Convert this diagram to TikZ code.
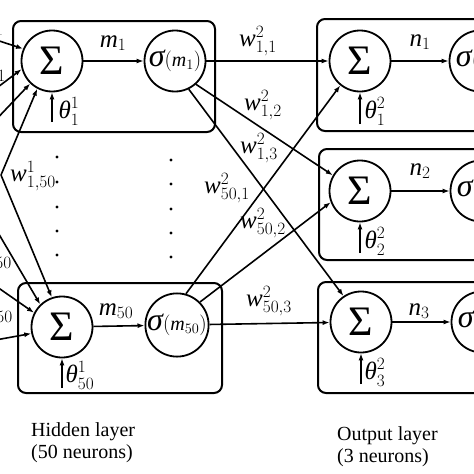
\documentclass[tikz,border=0pt]{standalone}
\usepackage{fontspec}
\setmainfont{Liberation Serif}
\usetikzlibrary{arrows.meta}
\newcommand{\wlab}[2]{$\mathit{w}^{#1}_{#2}$}
\newcommand{\thlab}[2]{$\mbox{\itshape θ}^{#1}_{#2}$}
\newcommand{\sgm}[2]{{\fontsize{32}{32}\selectfont\mbox{\itshape σ}}{\fontsize{20}{20}\selectfont$(\mathit{#1}_{#2})$}}
\tikzset{
  neuron/.style={circle, draw, line width=1.8pt, minimum size=61pt, inner sep=0pt},
  sumtext/.style={font=\fontsize{42}{42}\selectfont},
  layerbox/.style={draw, line width=2pt, rounded corners=8pt},
  conn/.style={line width=1.6pt, -{Latex[length=7pt,width=5pt]}},
  lbl/.style={font=\fontsize{25}{27}\selectfont, inner sep=0pt},
  captext/.style={font=\fontsize{20}{22}\selectfont, inner sep=0pt, anchor=base west},
  dotmark/.style={fill=black}
}
\begin{document}
\begin{tikzpicture}[x=1pt,y=-1pt]
\useasboundingbox (0,0) rectangle (474,474);
\clip (0,0) rectangle (474,474);
\fill[white] (0,0) rectangle (474,474);
% layer boxes
\draw[layerbox] (13,21) rectangle (215,132);
\draw[layerbox] (18,283) rectangle (222,393);
\draw[layerbox] (317,19) rectangle (560,131);
\draw[layerbox] (319,149) rectangle (560,260);
\draw[layerbox] (318,282) rectangle (560,393);
% neurons
\node[neuron, sumtext] (S1) at (52,61) {Σ};
\node[neuron] (M1) at (175,61) {\sgm{m}{1}};
\node[neuron, sumtext] (S50) at (62,327) {Σ};
\node[neuron] (M50) at (177,325) {\sgm{m}{50}};
\node[neuron, sumtext] (O1) at (360,61) {Σ};
\node[neuron, sumtext] (O2) at (360,191) {Σ};
\node[neuron, sumtext] (O3) at (361,322) {Σ};
\node[neuron] (R1) at (480,61) {\sgm{n}{1}};
\node[neuron] (R2) at (481,191) {\sgm{n}{2}};
\node[neuron] (R3) at (482,322) {\sgm{n}{3}};
% inputs (from outside the frame)
\coordinate (ia) at (-10,38);
\coordinate (ib) at (-10,93);
\coordinate (ic) at (-10,126);
\coordinate (id) at (1,175);
\coordinate (ie) at (-10,219);
\coordinate (ig) at (-10,282);
\coordinate (ih) at (-10,341);
\draw[conn] (ia) -- (S1.157);
\draw[conn] (ib) -- (S1.195);
\draw[conn] (ic) -- (S1.226);
\draw[conn] (id) -- (S1.242);
\draw[conn] (id) -- (S50.109);
\draw[conn] (ie) -- (S50.134);
\draw[conn] (ig) -- (S50.153);
\draw[conn] (ih) -- (S50.192);
% partial labels at the left edge
\node[lbl, anchor=east, text=black!55] (pa) at (4,24) {\wlab{1}{1,1}};
\node[lbl, anchor=east] (pb) at (6,70) {\wlab{1}{2,1}};
\node[lbl, anchor=east] (pc) at (12,257) {\wlab{1}{2,50}};
\node[lbl, anchor=east] (pd) at (13,311) {\wlab{1}{3,50}};
% hidden layer internals
\draw[conn] (S1) -- (M1);
\draw[conn] (S50) -- (M50);
\node[lbl] (lm1) at (113,43) {$\mathit{m}_1$};
\node[lbl] (lm50) at (116,311) {$\mathit{m}_{50}$};
% biases
\coordinate (b1) at (52,122);
\coordinate (b50) at (62,388);
\coordinate (bo1) at (360,124);
\coordinate (bo2) at (360,253);
\coordinate (bo3) at (361,384);
\draw[conn] (b1) -- (S1.south);
\draw[conn] (b50) -- (S50.south);
\draw[conn] (bo1) -- (O1.south);
\draw[conn] (bo2) -- (O2.south);
\draw[conn] (bo3) -- (O3.south);
\node[lbl] (t1) at (69,111) {\thlab{1}{1}};
\node[lbl] (t50) at (80,375) {\thlab{1}{50}};
\node[lbl] (to1) at (375,111) {\thlab{2}{1}};
\node[lbl] (to2) at (375,241) {\thlab{2}{2}};
\node[lbl] (to3) at (375,372) {\thlab{2}{3}};
% output internals
\draw[conn] (O1) -- (R1);
\draw[conn] (O2) -- (R2);
\draw[conn] (O3) -- (R3);
\node[lbl] (ln1) at (420,42) {$\mathit{n}_1$};
\node[lbl] (ln2) at (420,171) {$\mathit{n}_2$};
\node[lbl] (ln3) at (419,311) {$\mathit{n}_3$};
% hidden -> output
\draw[conn] (M1) -- (O1);
\draw[conn] (M1.-48) -- (O2.150);
\draw[conn] (M1.-64) -- (O3.124);
\draw[conn] (M50.74) -- (O1.231);
\draw[conn] (M50.45) -- (O2.201);
\draw[conn] (M50) -- (O3);
\node[lbl] (w11) at (258,41) {\wlab{2}{1,1}};
\node[lbl] (w12) at (263,105) {\wlab{2}{1,2}};
\node[lbl] (w13) at (259,148) {\wlab{2}{1,3}};
\node[lbl] (w501) at (227,188) {\wlab{2}{50,1}};
\node[lbl] (w502) at (263,223) {\wlab{2}{50,2}};
\node[lbl] (w503) at (269,301) {\wlab{2}{50,3}};
\node[lbl] (w150) at (33,176) {\wlab{1}{1,50}};
% ellipsis dots
\foreach \yy in {157,182,207,231,255} \fill[dotmark] (57,\yy) circle (1.6);
\foreach \yy in {160,184,209,233,257} \fill[dotmark] (171,\yy) circle (1.6);
% captions
\node[captext] (h1) at (31,436) {Hidden layer};
\node[captext] (h2) at (31,458) {(50 neurons)};
\node[captext] (o1c) at (337,440) {Output layer};
\node[captext] (o2c) at (337,462) {(3 neurons)};
\end{tikzpicture}
\end{document}
